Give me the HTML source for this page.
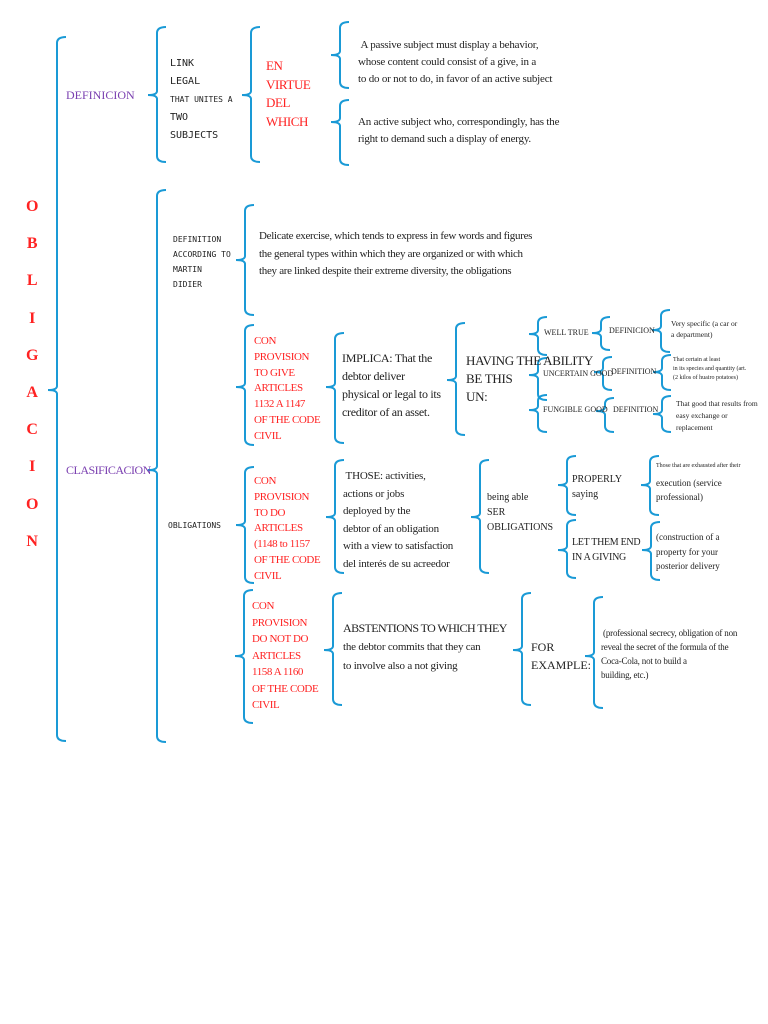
<!DOCTYPE html>
<html><head><meta charset="utf-8"><style>
body{margin:0;width:768px;height:1024px;background:#fff;position:relative;overflow:hidden;font-family:"Liberation Serif",serif;color:#222}
.t{position:absolute;white-space:nowrap}
.r{color:#f22;font-family:"Liberation Serif",serif;letter-spacing:-0.4px}
.c{font-family:"DejaVu Sans Mono","Liberation Mono",monospace;font-size:9px;line-height:16.5px}
.p{color:#7a3fb0}
svg{position:absolute;left:0;top:0}
</style></head><body>
<svg id="s" width="768" height="1024"></svg>
<div class="t r" style="left:25px;top:188px;font-size:16px;line-height:37.2px;font-weight:bold;text-align:center;width:14px">O<br>B<br>L<br>I<br>G<br>A<br>C<br>I<br>O<br>N</div>
<div class="t p" style="left:66px;top:88px;font-size:12px">DEFINICION</div>
<div class="t p" style="left:66px;top:463px;font-size:12px;letter-spacing:-0.5px">CLASIFICACION</div>
<div class="t c" style="left:170px;top:55px;font-size:10px;line-height:18px">LINK<br>LEGAL<br><span style="font-size:8px">THAT UNITES A</span><br>TWO<br>SUBJECTS</div>
<div class="t r" style="left:266px;top:57px;font-size:13px;line-height:18.5px">EN<br>VIRTUE<br>DEL<br>WHICH</div>
<div class="t" style="left:358px;top:37px;font-size:11px;line-height:17px;letter-spacing:-0.2px">&nbsp;A passive subject must display a behavior,<br>whose content could consist of a give, in a<br>to do or not to do, in favor of an active subject</div>
<div class="t" style="left:358px;top:114px;font-size:11px;line-height:17px;letter-spacing:-0.2px">An active subject who, correspondingly, has the<br>right to demand such a display of energy.</div>
<div class="t c" style="left:173px;top:232px;font-size:8px;line-height:15px">DEFINITION<br>ACCORDING TO<br>MARTIN<br>DIDIER</div>
<div class="t" style="left:259px;top:228px;font-size:11px;line-height:17.5px;letter-spacing:-0.3px">Delicate exercise, which tends to express in few words and figures<br>the general types within which they are organized or with which<br>they are linked despite their extreme diversity, the obligations</div>
<div class="t r" style="left:254px;top:334px;font-size:11px;line-height:15.8px">CON<br>PROVISION<br>TO GIVE<br>ARTICLES<br>1132 A 1147<br>OF THE CODE<br>CIVIL</div>
<div class="t" style="left:342px;top:349px;font-size:12px;line-height:18px;letter-spacing:-0.3px">IMPLICA: That the<br>debtor deliver<br>physical or legal to its<br>creditor of an asset.</div>
<div class="t" style="left:466px;top:352px;font-size:13px;line-height:18px;letter-spacing:-0.3px">HAVING THE ABILITY<br>BE THIS<br>UN:</div>
<div class="t" style="left:544px;top:328px;font-size:8px">WELL TRUE</div>
<div class="t" style="left:543px;top:369px;font-size:8px">UNCERTAIN GOOD</div>
<div class="t" style="left:543px;top:405px;font-size:8px">FUNGIBLE GOOD</div>
<div class="t" style="left:609px;top:326px;font-size:8px">DEFINICION</div>
<div class="t" style="left:611px;top:367px;font-size:8px">DEFINITION</div>
<div class="t" style="left:613px;top:405px;font-size:8px">DEFINITION</div>
<div class="t" style="left:671px;top:318px;font-size:7.5px;line-height:11px">Very specific (a car or<br>a department)</div>
<div class="t" style="left:673px;top:356px;font-size:6px;line-height:9px">That certain at least<br>in its species and quantity (art.<br>(2 kilos of huairo potatoes)</div>
<div class="t" style="left:676px;top:398px;font-size:7.5px;line-height:12px">That good that results from<br>easy exchange or<br>replacement</div>
<div class="t c" style="left:168px;top:518px;font-size:8px">OBLIGATIONS</div>
<div class="t r" style="left:254px;top:474px;font-size:11px;line-height:15.8px">CON<br>PROVISION<br>TO DO<br>ARTICLES<br>(1148 to 1157<br>OF THE CODE<br>CIVIL</div>
<div class="t" style="left:343px;top:468px;font-size:11px;line-height:17.5px;letter-spacing:-0.2px">&nbsp;THOSE: activities,<br>actions or jobs<br>deployed by the<br>debtor of an obligation<br>with a view to satisfaction<br>del interés de su acreedor</div>
<div class="t" style="left:487px;top:490px;font-size:10px;line-height:15px">being able<br>SER<br>OBLIGATIONS</div>
<div class="t" style="left:572px;top:472px;font-size:10px;line-height:15px">PROPERLY<br>saying</div>
<div class="t" style="left:572px;top:535px;font-size:10px;line-height:15px;letter-spacing:-0.3px">LET THEM END<br>IN A GIVING</div>
<div class="t" style="left:656px;top:462px;font-size:6px;line-height:9px">Those that are exhausted after their</div>
<div class="t" style="left:656px;top:476px;font-size:9px;line-height:14px">execution (service<br>professional)</div>
<div class="t" style="left:656px;top:530px;font-size:9px;line-height:14.5px">(construction of a<br>property for your<br>posterior delivery</div>
<div class="t r" style="left:252px;top:598px;font-size:11px;line-height:16.5px">CON<br>PROVISION<br>DO NOT DO<br>ARTICLES<br>1158 A 1160<br>OF THE CODE<br>CIVIL</div>
<div class="t" style="left:343px;top:619px;font-size:12px;line-height:18px;letter-spacing:-0.6px">ABSTENTIONS TO WHICH THEY<br><span style="font-size:11px;letter-spacing:-0.2px">the debtor commits that they can<br>to involve also a not giving</span></div>
<div class="t" style="left:531px;top:638px;font-size:12px;line-height:18px">FOR<br>EXAMPLE:</div>
<div class="t" style="left:601px;top:626px;font-size:9px;line-height:14px;letter-spacing:-0.2px">&nbsp;(professional secrecy, obligation of non<br>reveal the secret of the formula of the<br>Coca-Cola, not to build a<br>building, etc.)</div>
<script>
var B=[[57,37,741,390],[157,27,162,95],[251,27,162,95],[340,22,88,55],[340,100,165,122],[157,190,742,470],[245,205,315,260],[245,325,445,387],[335,333,443,387],[456,323,435,380],[538,317,355,334],[538,358,400,375],[538,395,432,410],[601,317,350,333],[603,357,390,372],[605,398,432,411],[661,310,352,330],[662,355,390,372],[662,396,432,414],[245,467,583,525],[335,460,573,517],[480,460,573,517],[567,456,515,485],[567,520,578,550],[650,456,515,485],[651,522,580,550],[244,590,723,656],[333,593,705,650],[522,593,705,650],[594,597,708,656]];
var s='';B.forEach(function(b){var x=b[0],a=b[1],e=b[2],m=b[3];
s+='<path d="M'+(x+9)+' '+a+' Q'+x+' '+a+' '+x+' '+(a+6)+' L'+x+' '+(m-4)+' Q'+x+' '+m+' '+(x-9)+' '+m+' Q'+x+' '+m+' '+x+' '+(m+4)+' L'+x+' '+(e-6)+' Q'+x+' '+e+' '+(x+9)+' '+e+'" fill="none" stroke="#1a9ad6" stroke-width="2"/>';});
document.getElementById('s').innerHTML=s;
</script>
</body></html>
